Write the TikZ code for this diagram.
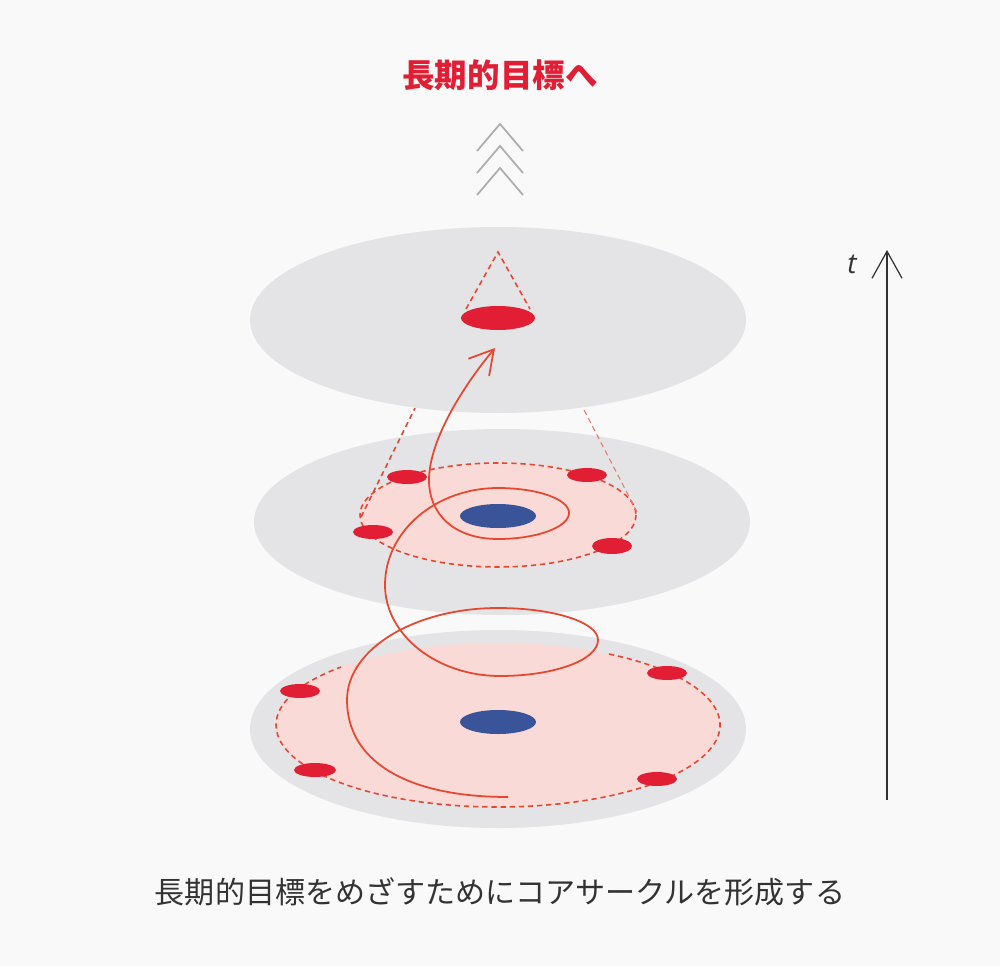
\documentclass[tikz,border=0pt]{standalone}
\usepackage{fontspec}
\usepackage{xcolor}
\usepackage{tikz}
\usetikzlibrary{arrows.meta}
\newfontfamily\jpfont{Noto Sans CJK JP}
\newfontfamily\tfont{Open Sans}
\definecolor{bgcol}{HTML}{F9F9F9}
\definecolor{layergray}{HTML}{E4E4E6}
\definecolor{corepink}{HTML}{FADAD7}
\definecolor{dotred}{HTML}{E11E34}
\definecolor{spiralred}{HTML}{E8472F}
\definecolor{hubblue}{HTML}{3A5499}
\definecolor{chevgray}{HTML}{ADADAD}
\definecolor{textgray}{HTML}{333333}

\begin{document}
\begin{tikzpicture}[x=0.02cm, y=-0.02cm,
    layerdisc/.style={fill=layergray},
    corearea/.style={fill=corepink},
    ringline/.style={draw=spiralred, line width=0.9pt, dash pattern=on 3pt off 2.2pt},
    memberdot/.style={fill=dotred},
    hubdot/.style={fill=hubblue},
    growth/.style={draw=spiralred, line width=1pt},
    chevron/.style={draw=chevgray, line width=1pt}]
    % Background
    \fill[bgcol] (0,0) rectangle (1000,966);
    \useasboundingbox (0,0) rectangle (1000,966);

    % Layer 1 (bottom)
    \fill[layerdisc] (498,729) ellipse [x radius=248, y radius=99];
    \fill[corearea] (498,725) ellipse [x radius=222, y radius=82];
    \draw[ringline] (609,654) arc [start angle=-60, end angle=225, x radius=222, y radius=82];
    \fill[memberdot] (300,691) ellipse [x radius=20, y radius=7];
    \fill[memberdot] (667,673) ellipse [x radius=20, y radius=7];
    \fill[memberdot] (315,770) ellipse [x radius=21, y radius=7];
    \fill[memberdot] (657,779) ellipse [x radius=20, y radius=7];
    \fill[hubdot] (498,722) ellipse [x radius=38, y radius=12];

    % Layer 2 (middle)
    \fill[layerdisc] (502,522) ellipse [x radius=248, y radius=93];
    \fill[corearea] (498,515) ellipse [x radius=138, y radius=52];
    \draw[ringline] (498,515) ellipse [x radius=138, y radius=52];
    \fill[memberdot] (407,477) ellipse [x radius=20, y radius=7];
    \fill[memberdot] (587,475) ellipse [x radius=20, y radius=7];
    \fill[memberdot] (373,532) ellipse [x radius=20, y radius=7];
    \fill[memberdot] (612,546) ellipse [x radius=20, y radius=8];
    \fill[hubdot] (498,516) ellipse [x radius=38, y radius=12];

    % Cone from layer 2 to layer 3
    \coordinate (coneL) at (361,517);
    \coordinate (coneR) at (637,512);
    \coordinate (coneLtop) at (415,408);
    \coordinate (coneRtop) at (583,408);
    \draw[ringline] (coneL) -- (coneLtop);
    \draw[ringline, draw=spiralred!75, line width=0.6pt] (coneR) -- (coneRtop);

    % Layer 3 (top)
    \fill[layerdisc] (498,320) ellipse [x radius=248, y radius=93];
    \coordinate (apex) at (498,252);
    \draw[ringline] (466,309) -- (apex) -- (530,309);
    \fill[memberdot] (498,318) ellipse [x radius=37, y radius=12];

    % Spiral through the layers
    \coordinate (sp0) at (508,797);
    \coordinate (sp1) at (495,348);
    \draw[growth, -{Straight Barb[length=4.7mm, width=5.4mm]}] (sp0)
        .. controls (405,797) and (347,760) .. (347,700)
        .. controls (347,649) and (415,608) .. (498,608)
        .. controls (553,608) and (598,622) .. (598,640)
        .. controls (598,660) and (554,676) .. (500,676)
        .. controls (437,676) and (385,635) .. (385,585)
        .. controls (385,531) and (436,488) .. (498,488)
        .. controls (537,488) and (569,499) .. (569,513)
        .. controls (569,527) and (537,539) .. (498,539)
        .. controls (455,539) and (429,515) .. (429,480)
        .. controls (429,440) and (464,385) .. (sp1);

    % Chevrons
    \draw[chevron] (477,151) -- (500,124) -- (523,151);
    \draw[chevron] (477,173) -- (500,146) -- (523,173);
    \draw[chevron] (477,195) -- (500,168) -- (523,195);

    % Texts
    \node[font=\jpfont\bfseries\fontsize{18.5}{22}\selectfont, text=dotred] (goal) at (500,75) {長期的目標へ};
    \node[font=\jpfont\fontsize{17.1}{20}\selectfont, text=textgray] (caption) at (500,892) {長期的目標をめざすためにコアサークルを形成する};

    % Time axis
    \coordinate (tstart) at (887,800);
    \coordinate (tend) at (887,250);
    \draw[textgray, line width=0.7pt, -{Straight Barb[length=5.4mm, width=6mm]}] (tstart) -- (tend);
    \node[font=\tfont\itshape\fontsize{16}{18}\selectfont, text=textgray] (tlabel) at (852,264) {t};
\end{tikzpicture}
\end{document}
